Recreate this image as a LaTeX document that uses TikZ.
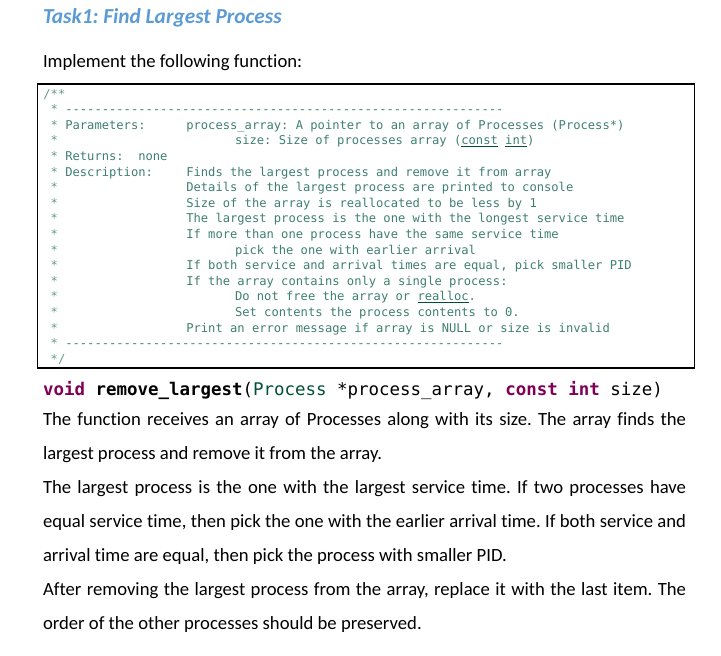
\documentclass[tikz,border=0pt]{standalone}
\usepackage{fontspec}
\setmainfont{Carlito}[Ligatures=NoCommon]
\newfontfamily\codefont{DejaVu Sans Mono}[Ligatures=TeXOff]
\definecolor{titleblue}{RGB}{91,155,213}
\definecolor{comment}{RGB}{63,127,112}
\definecolor{keyword}{RGB}{127,0,85}
\definecolor{typename}{RGB}{0,80,50}
\newcommand{\spellmark}[1]{\textcolor{typename}{\underline{\textcolor{comment}{#1}}}}
\newcommand{\dashrow}{\foreach \i in {1,...,60}{-}}
\newcommand{\fullline}[1]{\makebox[643pt][s]{#1}}
\frenchspacing
\begin{document}
\begin{tikzpicture}[x=1pt,y=-1pt,
    txt/.style={anchor=base west, inner sep=0pt, outer sep=0pt},
    cmt/.style={txt, font=\codefont\fontsize{12.13}{14}\selectfont, text=comment},
    star/.style={cmt, text=comment!80},
    body/.style={txt, font=\fontsize{18.67}{22}\selectfont}]
    \useasboundingbox (0,0) rectangle (721,656);
    \node[txt, font=\fontsize{21.33}{24}\selectfont\bfseries\itshape, text=titleblue] (title) at (43,23.2) {Task1: Find Largest Process};
    \node[body] (intro) at (43,67.3) {Implement the following function:};
    % comment box
    \node[draw, line width=1.3pt, inner sep=0pt, anchor=north west,
        minimum width=657pt, minimum height=284pt] (box) at (37,83.3) {};
    \node[star] (s0) at (43.4,98) {/**};
    \foreach \k in {1,...,16}
        \node[star] (s\k) at (50.7,98+15.6*\k) {*};
    \node[star] (s17) at (50.7,363.2) {*/};
    \node[cmt] (rule1) at (65.3,113.6) {\dashrow};
    \node[cmt] (rule2) at (65.3,347.6) {\dashrow};
    \node[cmt] (params) at (65.3,129.2) {Parameters:};
    \node[cmt] (returns) at (65.3,160.4) {Returns:~~none};
    \node[cmt] (descr) at (65.3,176) {Description:};
    \foreach \k/\txt in {2/{process\_array: A pointer to an array of Processes (Process*)},
        5/{Finds the largest process and remove it from array},
        6/{Details of the largest process are printed to console},
        7/{Size of the array is reallocated to be less by 1},
        8/{The largest process is the one with the longest service time},
        9/{If more than one process have the same service time},
        11/{If both service and arrival times are equal, pick smaller PID},
        12/{If the array contains only a single process:},
        15/{Print an error message if array is NULL or size is invalid}}
        \node[cmt] (b\k) at (186.3,98+15.6*\k) {\txt};
    \foreach \k/\txt in {3/{size: Size of processes array (\spellmark{const} \spellmark{int})},
        10/{pick the one with earlier arrival},
        13/{Do not free the array or \spellmark{realloc}.},
        14/{Set contents the process contents to 0.}}
        \node[cmt] (c\k) at (235,98+15.6*\k) {\txt};
    % signature and text
    \node[txt, font=\codefont\fontsize{17.45}{20}\selectfont] (sig) at (43,395)
        {\textbf{\color{keyword}void} \textbf{remove\_largest}(\textcolor{typename}{Process} *process\_array, \textbf{\color{keyword}const int} size)};
    \node[body] (p1) at (43,425) {\fullline{The function receives an array of Processes along with its size. The array finds the}};
    \node[body] (p2) at (43,459.1) {largest process and remove it from the array.};
    \node[body] (p3) at (43,493.3) {\fullline{The largest process is the one with the largest service time. If two processes have}};
    \node[body] (p4) at (43,527.4) {\fullline{equal service time, then pick the one with the earlier arrival time. If both service and}};
    \node[body] (p5) at (43,561.5) {arrival time are equal, then pick the process with smaller PID.};
    \node[body] (p6) at (43,595.6) {\fullline{After removing the largest process from the array, replace it with the last item. The}};
    \node[body] (p7) at (43,629.7) {order of the other processes should be preserved.};
\end{tikzpicture}
\end{document}
